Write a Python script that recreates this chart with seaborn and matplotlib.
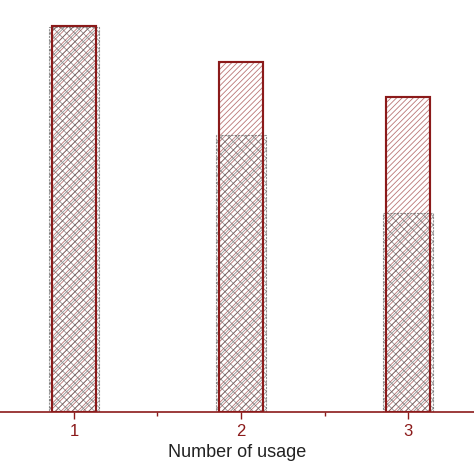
import matplotlib
matplotlib.use("Agg")
import matplotlib.pyplot as plt
from matplotlib.ticker import FixedLocator
import seaborn as sns
import pandas as pd

usage = [1, 2, 3]
red_vals = [100.0, 90.7, 81.6]
black_vals = [99.7, 71.8, 51.6]

sns.set_style("white")
plt.rcParams['font.family'] = ['Liberation Sans', 'DejaVu Sans']
plt.rcParams['hatch.linewidth'] = 0.6

dark_red = "#8b1a1a"
fig = plt.figure(figsize=(4.74, 4.74), dpi=100)
ax = fig.add_axes([0, 0.131, 1, 0.869])

df = pd.DataFrame({"usage": usage, "red": red_vals, "black": black_vals})

sns.barplot(data=df, x="usage", y="red", native_scale=True, width=0.263,
            color="white", edgecolor=dark_red, linewidth=1.5, ax=ax)
n_red = len(ax.patches)
sns.barplot(data=df, x="usage", y="black", native_scale=True, width=0.30,
            color="white", edgecolor="#333333", linewidth=0.8, ax=ax)

for i, p in enumerate(ax.patches):
    p.set_fill(False)
    if i < n_red:
        p.set_hatch("//////")
        p.set_edgecolor((0.55, 0.1, 0.1, 0.6))
    else:
        p.set_hatch("xxxx")
        p.set_edgecolor((0.3, 0.3, 0.3, 0.6))
        p.set_linestyle((0, (2, 1)))
# redraw red outlines on top
for p in ax.patches[:n_red]:
    ax.add_patch(plt.Rectangle(p.get_xy(), p.get_width(), p.get_height(),
                               fill=False, edgecolor=dark_red, linewidth=1.5))

ax.set_xlim(1 - 74 / 167, 1 + 400 / 167)
ax.set_ylim(0, 106.7)
ax.set_xticks(usage)
ax.xaxis.set_minor_locator(FixedLocator([1.5, 2.5]))
ax.set_xticklabels([str(u) for u in usage], color=dark_red, fontsize=12)
ax.tick_params(axis="x", which="both", direction="out", colors=dark_red,
               labelcolor=dark_red, length=5, width=1, bottom=True)
ax.tick_params(axis="x", which="minor", length=3)
ax.set_yticks([])
ax.set_ylabel("")
ax.set_xlabel("Number of usage", fontsize=13, color="#222222")
for s in ["top", "left", "right"]:
    ax.spines[s].set_visible(False)
ax.spines["bottom"].set_color(dark_red)
ax.spines["bottom"].set_linewidth(1.2)

fig.savefig("out.png", dpi=100)
